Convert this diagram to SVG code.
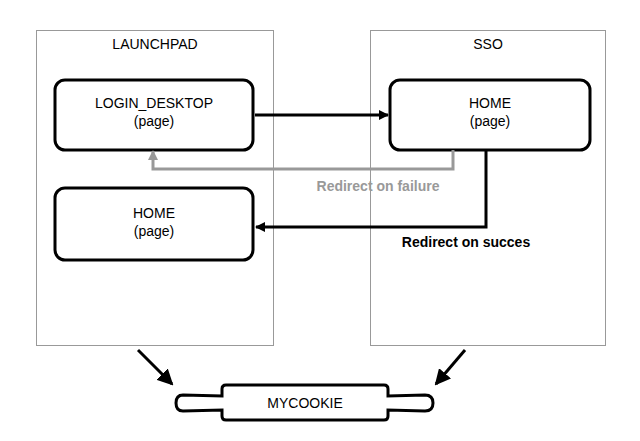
<svg xmlns="http://www.w3.org/2000/svg" width="640" height="441" viewBox="0 0 640 441">
<style>
text{font-family:"Liberation Sans",Arial,sans-serif;font-size:14px;text-anchor:middle;fill:#000}
.c{fill:none;stroke:#999;stroke-width:1}
.n{fill:#fff;stroke:#000;stroke-width:3}
</style>
<defs>
<marker id="a" markerWidth="10" markerHeight="10" refX="9" refY="5" orient="auto" markerUnits="userSpaceOnUse" viewBox="0 0 10 10"><path d="M0,0 L10,5 L0,10 z" fill="#000"/></marker>
<marker id="g" markerWidth="10" markerHeight="10" refX="9" refY="5" orient="auto" markerUnits="userSpaceOnUse" viewBox="0 0 10 10"><path d="M0,0 L10,5 L0,10 z" fill="#999"/></marker>
<marker id="b" markerWidth="16" markerHeight="16" refX="14" refY="8" orient="auto" markerUnits="userSpaceOnUse" viewBox="0 0 16 16"><path d="M0,0 L16,8 L0,16 z" fill="#000"/></marker>
</defs>
<rect width="640" height="441" fill="#fff"/>
<g id="launchpad"><rect class="c" x="36.5" y="30.5" width="237" height="315"/><text x="155" y="49" font-size="13">LAUNCHPAD</text></g>
<g id="sso"><rect class="c" x="370.5" y="30.5" width="235" height="315"/><text x="488" y="49" font-size="13">SSO</text></g>
<g id="login"><rect class="n" x="55" y="80" width="198" height="70" rx="10"/><text x="154" y="108">LOGIN_DESKTOP</text><text x="154" y="126">(page)</text></g>
<g id="ssohome"><rect class="n" x="390" y="80" width="200" height="70" rx="10"/><text x="490" y="108">HOME</text><text x="490" y="126">(page)</text></g>
<g id="home"><rect class="n" x="55" y="188" width="198" height="72" rx="10"/><text x="154" y="218">HOME</text><text x="154" y="236">(page)</text></g>
<g id="mycookie"><path class="n" d="M222,396 L222,389 Q222,385 226,385 L384,385 Q388,385 388,389 L388,396 L425,395 Q433,395 433,403 Q433,411 425,411 L388,410 L388,416 Q388,420 384,420 L226,420 Q222,420 222,416 L222,410 L183,411 Q176,411 176,403 Q176,395 183,395 Z"/><text x="305" y="408">MYCOOKIE</text></g>
<g id="connectors">
<line x1="255" y1="115" x2="388" y2="115" stroke="#000" stroke-width="3" marker-end="url(#a)"/>
<path d="M453,150 V169 H153 V151" fill="none" stroke="#999" stroke-width="3" marker-end="url(#g)"/>
<path d="M486,150 V227 H256" fill="none" stroke="#000" stroke-width="3" marker-end="url(#a)"/>
<line x1="138" y1="350" x2="172" y2="384" stroke="#000" stroke-width="3" marker-end="url(#b)"/>
<line x1="465" y1="350" x2="436" y2="384" stroke="#000" stroke-width="3" marker-end="url(#b)"/>
<text x="378" y="191" style="fill:#999" font-weight="bold" font-size="14">Redirect on failure</text>
<text x="466" y="247" font-weight="bold" font-size="14">Redirect on succes</text>
</g>
</svg>
